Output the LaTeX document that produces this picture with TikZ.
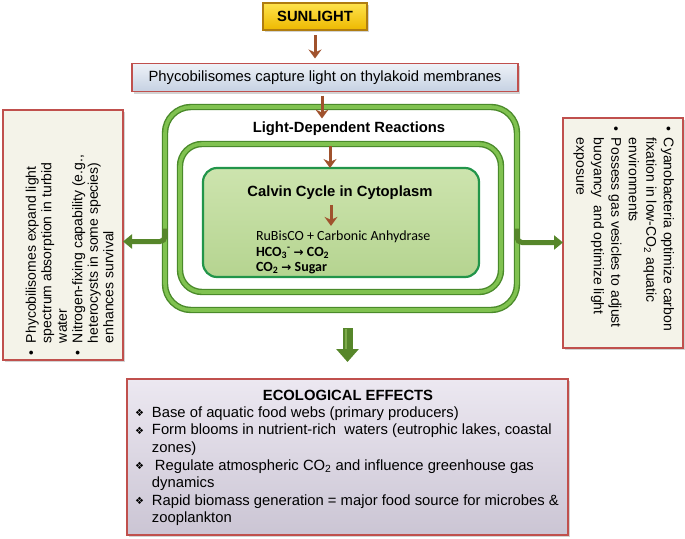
\documentclass[tikz,border=0pt]{standalone}
\usepackage{fontspec}
\setmainfont{Liberation Sans}
\newfontfamily\dejavu{DejaVu Sans}
\newfontfamily\calib{Carlito}
\usetikzlibrary{arrows.meta,shadows,calc}
\definecolor{brownarr}{HTML}{A0522D}
\definecolor{redborder}{HTML}{C0504D}
\definecolor{frameDark}{HTML}{4A8A2A}
\definecolor{frameMid}{HTML}{80C250}
\definecolor{calvinTop}{HTML}{CDE4AE}
\definecolor{calvinBot}{HTML}{B5D490}
\definecolor{calvinBorder}{HTML}{22954A}
\definecolor{goldTop}{HTML}{FFE34C}
\definecolor{goldBot}{HTML}{EDB800}
\definecolor{goldBorder}{HTML}{B07D10}
\definecolor{blueTop}{HTML}{EEF2F8}
\definecolor{blueBot}{HTML}{C5D1E2}
\definecolor{creamFill}{HTML}{F4F3E9}
\definecolor{lavTop}{HTML}{ECE8F1}
\definecolor{lavBot}{HTML}{CBC5D4}
\definecolor{arrowGreen}{HTML}{56862A}
\definecolor{arrowLight}{HTML}{7DAA4A}
\begin{document}
\begin{tikzpicture}[x=1pt,y=-1pt,
  every node/.style={inner sep=0pt, outer sep=0pt},
  boxshadow/.style={drop shadow={opacity=0.35, shadow xshift=2pt, shadow yshift=-2pt}},
  brownarrow/.style={draw=brownarr, line width=3pt, -{Stealth[length=9pt,width=13pt,inset=3pt]}},
  tube/.style={draw=frameDark, line width=1.4pt, double=frameMid, double distance=3.6pt},
  sidearrow/.style={draw=arrowGreen, line width=5pt, rounded corners=5pt, -{Triangle[length=9pt,width=14pt]}},
  blockarrow/.style={draw=arrowGreen, line width=10pt, -{Triangle[length=13pt,width=22pt]}},
  mainfont/.style={font=\fontsize{14.8}{17.8}\selectfont},
  boldfont/.style={font=\bfseries\fontsize{14.8}{17.8}\selectfont},
  sidebox/.style={boxshadow, draw=redborder, line width=1.4pt, fill=creamFill},
]
\useasboundingbox (0,0) rectangle (685,538);

% top boxes
\node[boxshadow, draw=goldBorder, line width=1.8pt, top color=goldTop, bottom color=goldBot,
      minimum width=104pt, minimum height=27pt, boldfont] (sun) at (315,16.5) {SUNLIGHT};
\node[boxshadow, draw=redborder, line width=1.4pt, top color=blueTop, bottom color=blueBot,
      minimum width=386pt, minimum height=28pt, mainfont] (phyco) at (325,77.5)
      {Phycobilisomes capture light on thylakoid membranes};

% side boxes
\node[sidebox, minimum width=120pt, minimum height=250pt] (leftbox) at (63,235) {};
\node[sidebox, minimum width=120pt, minimum height=230pt] (rightbox) at (623,233) {};

% frames
\node[tube, rounded corners=26pt, minimum width=352pt, minimum height=203pt] (outer) at (341,208.5) {};
\node[tube, rounded corners=22pt, minimum width=321pt, minimum height=148pt] (inner) at (340.5,218) {};
\node[draw=calvinBorder, line width=2.2pt, rounded corners=14pt, top color=calvinTop, bottom color=calvinBot,
      minimum width=276pt, minimum height=109pt] (calvin) at (341,222.5) {};

% ecological box
\node[boxshadow, draw=redborder, line width=1.6pt, top color=lavTop, bottom color=lavBot,
      minimum width=441pt, minimum height=156pt] (eco) at (347.5,457) {};

% texts
\node[boldfont] (ldr) at (349,129) {Light-Dependent Reactions};
\node[boldfont] (cct) at (340,193) {Calvin Cycle in Cytoplasm};
\node[anchor=north west, align=left, font=\calib\fontsize{14}{15.5}\selectfont] (rxn) at (256,231)
  {RuBisCO + Carbonic Anhydrase\\
   \textbf{HCO\textsubscript{3}\textsuperscript{-} {\dejavu\fontsize{12}{12}\selectfont →} CO\textsubscript{2}}\\
   \textbf{CO\textsubscript{2} {\dejavu\fontsize{12}{12}\selectfont →} Sugar}};

\node[rotate=90, anchor=north west, font=\fontsize{14}{15.5}\selectfont] (ltext) at (25,355)
  {\begin{tabular}{@{}l@{\hspace{7pt}}l@{}}
   • & Phycobilisomes expand light\\
     & spectrum absorption in turbid\\
     & water\\
   • & Nitrogen-fixing capability (e.g.,\\
     & heterocysts in some species)\\
     & enhances survival
   \end{tabular}};

\node[rotate=-90, anchor=north west, font=\fontsize{14}{17.5}\selectfont] (rtext) at (676,126)
  {\begin{tabular}{@{}l@{\hspace{7pt}}l@{}}
   • & Cyanobacteria optimize carbon\\
     & fixation in low-CO\textsubscript{2} aquatic\\
     & environments\\
   • & Possess gas vesicles to adjust\\
     & buoyancy\ \ and optimize light\\
     & exposure
   \end{tabular}};

\node[boldfont] (ecot) at (348,395) {ECOLOGICAL EFFECTS};
\node[anchor=north west, font=\fontsize{14.8}{17.6}\selectfont] (ecol) at (135,405)
  {\begin{tabular}{@{}l@{\hspace{8pt}}l@{}}
   \raisebox{0.5pt}{\dejavu\fontsize{10}{10}\selectfont ❖} & Base of aquatic food webs (primary producers)\\
   \raisebox{0.5pt}{\dejavu\fontsize{10}{10}\selectfont ❖} & Form blooms in nutrient-rich\ \ waters (eutrophic lakes, coastal\\
     & zones)\\
   \raisebox{0.5pt}{\dejavu\fontsize{10}{10}\selectfont ❖} & \hspace{3pt}Regulate atmospheric CO\textsubscript{2} and influence greenhouse gas\\
     & dynamics\\
   \raisebox{0.5pt}{\dejavu\fontsize{10}{10}\selectfont ❖} & Rapid biomass generation = major food source for microbes \&\\
     & zooplankton
   \end{tabular}};

% brown arrows
\draw[brownarrow, shorten <=5pt, shorten >=5pt] (sun.south) -- (sun.south |- phyco.north);
\draw[brownarrow] ($(phyco.south)+(-3,4)$) -- ($(phyco.south)+(-3,27)$);
\draw[brownarrow] ($(inner.north)+(-10.5,2)$) -- ($(calvin.north)+(-11,0)$);
\draw[brownarrow] ($(cct.south)+(-9,5)$) -- ($(cct.south)+(-9,26)$);

% green arrows
\draw[sidearrow] ($(outer.west)+(0,20)$) |- ($(leftbox.east)+(0,6.5)$);
\draw[sidearrow] ($(outer.east)+(0,20)$) |- ($(rightbox.west)+(0,9.5)$);
\draw[blockarrow] ($(outer.south -| eco.north)+(0,18)$) -- ($(eco.north)+(0,-17)$);
\draw[draw=arrowLight, line width=2pt] ($(outer.south -| eco.north)+(-1.5,19)$) -- ($(eco.north)+(-1.5,-30)$);
\end{tikzpicture}
\end{document}
